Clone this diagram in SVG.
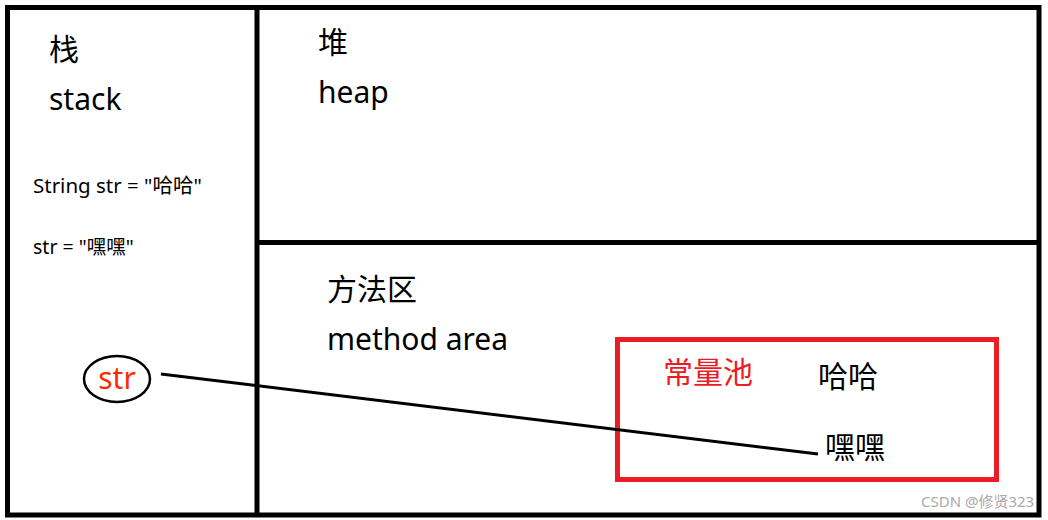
<svg xmlns="http://www.w3.org/2000/svg" width="1048" height="520" viewBox="0 0 1048 520">
<style>
text{font-family:"Noto Sans","Noto Sans CJK SC",sans-serif;fill:#000}
.big{font-size:30px}
.red{fill:#ed1c24}
.frame{fill:none;stroke:#000;stroke-width:5}
</style>
<rect width="1048" height="520" fill="#fff"/>
<g id="frame">
<rect class="frame" x="7.5" y="7.5" width="1031.5" height="507.5"/>
<line x1="257" y1="7.5" x2="257" y2="515" stroke="#000" stroke-width="5"/>
<line x1="257" y1="242.5" x2="1039" y2="242.5" stroke="#000" stroke-width="5"/>
</g>
<g id="stack">
<text class="big" x="49" y="60">栈</text>
<text class="big" x="49" y="110">stack</text>
<text x="33" y="193" font-size="20.5">String str = "哈哈"</text>
<text x="33" y="254" font-size="19.5">str = "嘿嘿"</text>
</g>
<g id="heap">
<text class="big" x="318" y="53">堆</text>
<text class="big" x="318" y="103">heap</text>
</g>
<g id="method-area">
<text class="big" x="327" y="300">方法区</text>
<text class="big" x="327" y="350">method area</text>
</g>
<g id="str-node">
<ellipse cx="117" cy="379" rx="33" ry="23" fill="#fff" stroke="#000" stroke-width="2.5"/>
<text x="117" y="389" font-size="30" text-anchor="middle" style="fill:#ff2a00">str</text>
</g>
<g id="constant-pool">
<rect x="617.5" y="339.5" width="379" height="140" fill="none" stroke="#ed1c24" stroke-width="5"/>
<text class="big red" x="663" y="383">常量池</text>
<text class="big" x="818" y="387">哈哈</text>
<text class="big" x="825" y="458">嘿嘿</text>
</g>
<g id="connectors">
<line x1="161" y1="374" x2="818" y2="454" stroke="#000" stroke-width="3"/>
</g>
<text x="921" y="507" font-size="15" style="fill:#aaa">CSDN @修贤323</text>
</svg>
